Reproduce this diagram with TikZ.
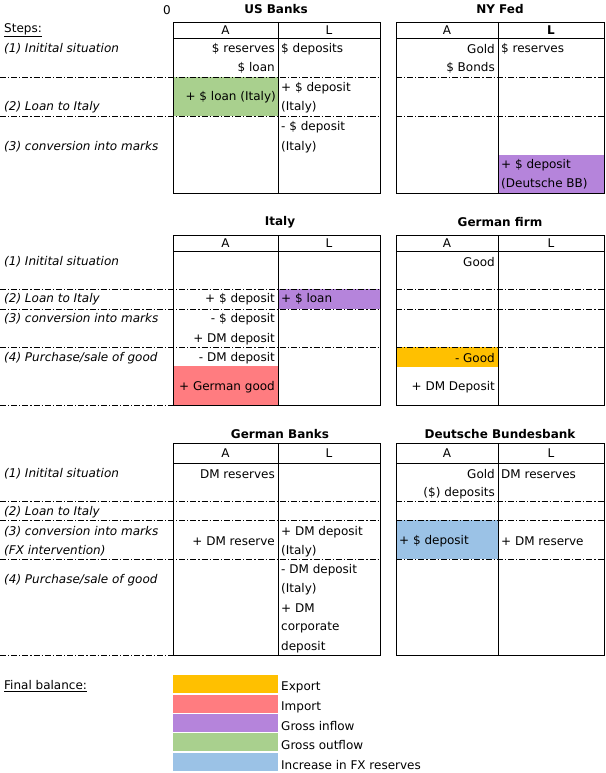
\documentclass[tikz,border=0pt]{standalone}
\usepackage{fontspec}
\setmainfont{DejaVu Sans}
\begin{document}
\begin{tikzpicture}[x=1pt,y=-1pt,
  every node/.style={inner sep=0pt,font=\fontsize{12}{14}\selectfont},
  lab/.style={anchor=west,font=\fontsize{12}{14}\selectfont\itshape},
  ra/.style={anchor=east},
  la/.style={anchor=west},
  ttl/.style={font=\fontsize{12}{14}\selectfont\bfseries},
  dd/.style={dash pattern=on 6pt off 2pt on 1.2pt off 2pt,line width=0.7pt},
  solid line/.style={line width=0.8pt}]
\useasboundingbox (0,0) rectangle (605,773);
\definecolor{cexp}{HTML}{FFC000}
\definecolor{cimp}{HTML}{FF7C80}
\definecolor{cin}{HTML}{B584DB}
\definecolor{cout}{HTML}{A9D08E}
\definecolor{cfx}{HTML}{9BC2E6}
% fills
\fill[cout] (173,77) rectangle (278,116);
\fill[cin] (498,155) rectangle (604,193);
\fill[cin] (278,289) rectangle (380,309);
\fill[cimp] (173,366) rectangle (278,405);
\fill[cexp] (396,347) rectangle (498,367);
\fill[cfx] (396,520) rectangle (498,559);
% dashed lines
\foreach \y in {77,116,289,309,347,501,520,559}{
  \draw[dd] (0,\y) -- (380,\y);
  \draw[dd] (396,\y) -- (604,\y);
}
\draw[dd] (0,405) -- (173,405);
\draw[dd] (0,655) -- (173,655);
% tables
\foreach \t/\h/\b in {22/38/193,235/251/405,443/463/655}{
  \draw[solid line] (173,\t) rectangle (380,\b);
  \draw[solid line] (396,\t) rectangle (604,\b);
  \draw[solid line] (173,\h) -- (380,\h) (396,\h) -- (604,\h);
  \draw[solid line] (278,\t) -- (278,\b) (498,\t) -- (498,\b);
  \node (hA1) at (225.5,{(\t+\h)/2}) {A};
  \node (hL1) at (329,{(\t+\h)/2}) {L};
  \node (hA2) at (447,{(\t+\h)/2}) {A};
}
\node (hL2a) at (551,30) {\textbf{L}};
\node (hL2b) at (551,243) {L};
\node (hL2c) at (551,453) {L};
% titles
\node (zero) at (167,10) {0};
\node[ttl] (t1) at (276,9) {US Banks};
\node[ttl] (t2) at (500,9) {NY Fed};
\node[ttl] (t3) at (280,222) {Italy};
\node[ttl] (t4) at (500,222) {German firm};
\node[ttl] (t5) at (280,434) {German Banks};
\node[ttl] (t6) at (500,434) {Deutsche Bundesbank};
% labels block 1
\node[la] (steps) at (4,30) {\underline{Steps:}};
\node[lab] (s11) at (4,49) {(1) Initital situation};
\node[lab] (s12) at (4,107) {(2) Loan to Italy};
\node[lab] (s13) at (4,147) {(3) conversion into marks};
\node[ra] at (275,49) {\$ reserves};
\node[ra] at (275,68) {\$ loan};
\node[la] at (281,49) {\$ deposits};
\node[ra] at (276,97) {+ \$ loan (Italy)};
\node[la] at (281,88) {+ \$ deposit};
\node[la] at (281,107) {(Italy)};
\node[la] at (281,127) {- \$ deposit};
\node[la] at (281,147) {(Italy)};
\node[ra] at (495,49) {Gold};
\node[ra] at (495,68) {\$ Bonds};
\node[la] at (501,49) {\$ reserves};
\node[la] at (501,165) {+ \$ deposit};
\node[la] at (501,184) {(Deutsche BB)};
% block 2
\node[lab] at (4,262) {(1) Initital situation};
\node[lab] at (4,299) {(2) Loan to Italy};
\node[lab] at (4,319) {(3) conversion into marks};
\node[lab] at (4,358) {(4) Purchase/sale of good};
\node[ra] at (275,299) {+ \$ deposit};
\node[la] at (281,299) {+ \$ loan};
\node[ra] at (275,319) {- \$ deposit};
\node[ra] at (275,339) {+ DM deposit};
\node[ra] at (275,358) {- DM deposit};
\node[ra] at (275,387) {+ German good};
\node[ra] at (495,262) {Good};
\node[ra] at (495,358) {- Good};
\node[ra] at (495,387) {+ DM Deposit};
% block 3
\node[lab] at (4,474) {(1) Initital situation};
\node[lab] at (4,512) {(2) Loan to Italy};
\node[lab] at (4,532) {(3) conversion into marks};
\node[lab] at (4,551) {(FX intervention)};
\node[lab] at (4,580) {(4) Purchase/sale of good};
\node[ra] at (275,474) {DM reserves};
\node[ra] at (275,541) {+ DM reserve};
\node[la] at (281,532) {+ DM deposit};
\node[la] at (281,551) {(Italy)};
\node[la] at (281,570) {- DM deposit};
\node[la] at (281,589) {(Italy)};
\node[la] at (281,608) {+ DM};
\node[la] at (281,628) {corporate};
\node[la] at (281,647) {deposit};
\node[ra] at (495,474) {Gold};
\node[ra] at (495,493) {(\$) deposits};
\node[la] at (501,474) {DM reserves};
\node[la] at (399,541) {+ \$ deposit};
\node[la] at (501,541) {+ DM reserve};
% legend
\node[la] (fb) at (4,686) {\underline{Final balance:}};
\foreach \c/\a/\b/\t in {cexp/675/693/Export,cimp/695/713/Import,cin/714/732/Gross inflow,cout/733/751/Gross outflow,cfx/753/771/Increase in FX reserves}{
  \fill[\c] (173,\a) rectangle (278,\b);
  \node[la] at (281,{(\a+\b)/2+3}) {\t};
}
\end{tikzpicture}
\end{document}
